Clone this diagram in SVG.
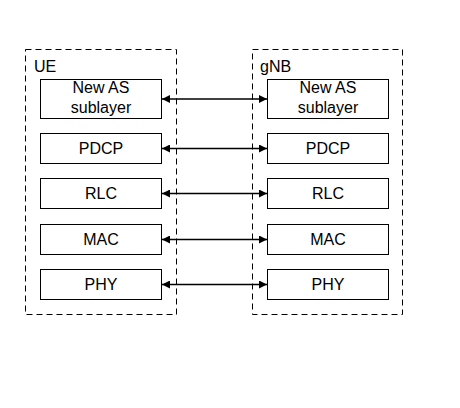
<svg xmlns="http://www.w3.org/2000/svg" width="460" height="408" viewBox="0 0 460 408">
<style>
.cont{fill:none;stroke:#000;stroke-width:1;stroke-dasharray:6 4}
.box{fill:#fff;stroke:#000;stroke-width:1}
.t{font-family:"Liberation Sans",Arial,sans-serif;font-size:16px;fill:#000;text-anchor:middle}
.lbl{font-family:"Liberation Sans",Arial,sans-serif;font-size:16px;fill:#000}
.conn{stroke:#000;stroke-width:1.3;fill:none;marker-start:url(#a);marker-end:url(#a)}
</style>
<defs>
<marker id="a" viewBox="0 0 10 10" refX="10" refY="5" markerWidth="8" markerHeight="8" markerUnits="userSpaceOnUse" orient="auto-start-reverse">
<path d="M0,0 L10,5 L0,10 z" fill="#000"/>
</marker>
</defs>
<rect width="460" height="408" fill="#fff"/>
<g id="UE">
<rect class="cont" x="25.5" y="49.5" width="151" height="265"/>
<text class="lbl" x="34" y="72">UE</text>
</g>
<g id="gNB">
<rect class="cont" x="252.5" y="49.5" width="150" height="265"/>
<text class="lbl" x="260" y="72">gNB</text>
</g>
<g id="ue-newas"><rect class="box" x="40.5" y="79.5" width="121" height="39"/><text class="t" x="101" y="93">New AS</text><text class="t" x="101" y="113">sublayer</text></g>
<g id="ue-pdcp"><rect class="box" x="40.5" y="133.5" width="121" height="30"/><text class="t" x="101" y="154">PDCP</text></g>
<g id="ue-rlc"><rect class="box" x="40.5" y="178.5" width="121" height="30"/><text class="t" x="101" y="199">RLC</text></g>
<g id="ue-mac"><rect class="box" x="40.5" y="224.5" width="121" height="30"/><text class="t" x="101" y="245">MAC</text></g>
<g id="ue-phy"><rect class="box" x="40.5" y="269.5" width="121" height="30"/><text class="t" x="101" y="290">PHY</text></g>
<g id="gnb-newas"><rect class="box" x="267.5" y="79.5" width="121" height="39"/><text class="t" x="328" y="93">New AS</text><text class="t" x="328" y="113">sublayer</text></g>
<g id="gnb-pdcp"><rect class="box" x="267.5" y="133.5" width="121" height="30"/><text class="t" x="328" y="154">PDCP</text></g>
<g id="gnb-rlc"><rect class="box" x="267.5" y="178.5" width="121" height="30"/><text class="t" x="328" y="199">RLC</text></g>
<g id="gnb-mac"><rect class="box" x="267.5" y="224.5" width="121" height="30"/><text class="t" x="328" y="245">MAC</text></g>
<g id="gnb-phy"><rect class="box" x="267.5" y="269.5" width="121" height="30"/><text class="t" x="328" y="290">PHY</text></g>
<g id="connectors">
<line class="conn" x1="162" y1="99" x2="267" y2="99"/>
<line class="conn" x1="162" y1="148.5" x2="267" y2="148.5"/>
<line class="conn" x1="162" y1="193.5" x2="267" y2="193.5"/>
<line class="conn" x1="162" y1="239.5" x2="267" y2="239.5"/>
<line class="conn" x1="162" y1="284.5" x2="267" y2="284.5"/>
</g>
</svg>
